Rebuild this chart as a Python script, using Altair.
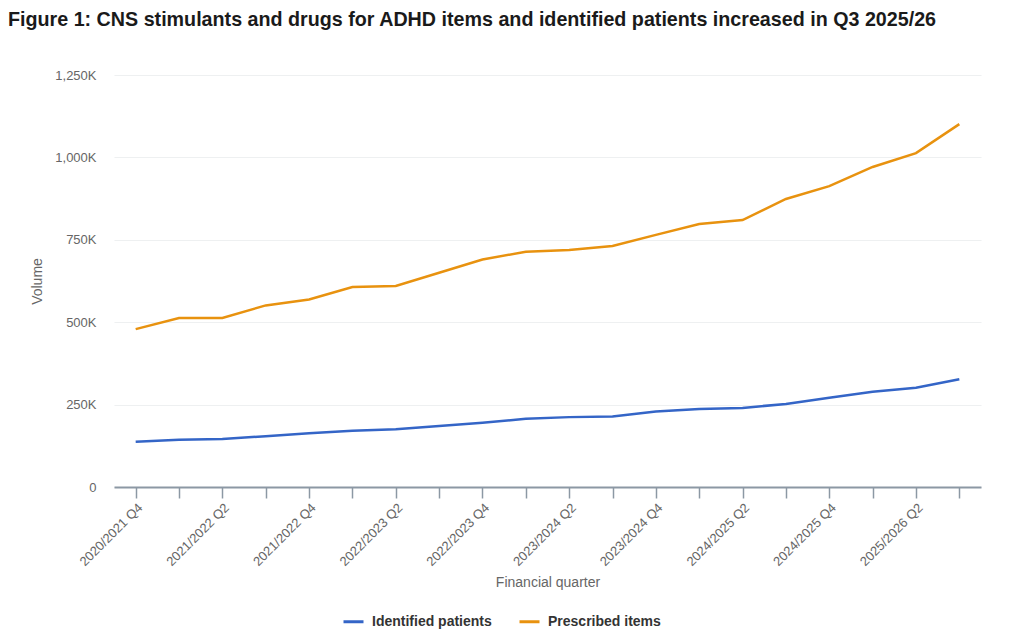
import altair as alt
import pandas as pd

quarters = ["2020/2021 Q4", "2021/2022 Q1", "2021/2022 Q2", "2021/2022 Q3", "2021/2022 Q4",
            "2022/2023 Q1", "2022/2023 Q2", "2022/2023 Q3", "2022/2023 Q4",
            "2023/2024 Q1", "2023/2024 Q2", "2023/2024 Q3", "2023/2024 Q4",
            "2024/2025 Q1", "2024/2025 Q2", "2024/2025 Q3", "2024/2025 Q4",
            "2025/2026 Q1", "2025/2026 Q2", "2025/2026 Q3"]

identified_patients = [137000, 143000, 146000, 154000, 163000, 171000, 175000, 185000, 195000,
                       207000, 212000, 214000, 229000, 237000, 240000, 252000, 271000,
                       289000, 301000, 327000]

prescribed_items = [479000, 513000, 513000, 551000, 569000, 607000, 610000, 650000, 690000,
                    714000, 719000, 731000, 765000, 798000, 810000, 874000, 913000,
                    971000, 1013000, 1101000]

series_names = ["Identified patients", "Prescribed items"]
series_colors = ["#3465c7", "#e8920f"]
y_ticks = [0, 250000, 500000, 750000, 1000000, 1250000]

rows = []
for q, v in zip(quarters, identified_patients):
    rows.append({"quarter": q, "series": series_names[0], "value": v})
for q, v in zip(quarters, prescribed_items):
    rows.append({"quarter": q, "series": series_names[1], "value": v})
df = pd.DataFrame(rows)

title = "Figure 1: CNS stimulants and drugs for ADHD items and identified patients increased in Q3 2025/26"

chart = alt.Chart(df).mark_line(strokeWidth=2.5).encode(
    x=alt.X("quarter:N", sort=quarters,
            scale=alt.Scale(type="point", padding=0.5),
            axis=alt.Axis(title="Financial quarter", labelAngle=-45,
                          labelExpr="test(/Q[24]$/, datum.value) ? datum.label : ''",
                          grid=False, domainColor="#8c98a4", domainWidth=2,
                          tickColor="#8c98a4", tickWidth=1.5, tickSize=11,
                          labelPadding=3, titlePadding=7)),
    y=alt.Y("value:Q", scale=alt.Scale(domain=[0, 1250000], nice=False),
            axis=alt.Axis(title="Volume", values=y_ticks,
                          labelExpr="datum.value == 0 ? '0' : format(datum.value / 1000, ',') + 'K'",
                          domain=False, ticks=False, labelPadding=18, titlePadding=10,
                          gridColor="#eef0f1", gridWidth=1.2)),
    color=alt.Color("series:N", scale=alt.Scale(domain=series_names, range=series_colors),
                    legend=alt.Legend(title=None, orient="none", direction="horizontal",
                                      legendX=228, legendY=535,
                                      symbolType="stroke", symbolSize=400, symbolStrokeWidth=3,
                                      labelFontSize=14, labelFontWeight="bold", labelColor="#333333",
                                      labelFont="Liberation Sans", labelOffset=7, columnPadding=21)),
).properties(
    width=867,
    height=412,
    title=alt.TitleParams(title, anchor="start", frame="group", dx=-106, dy=0,
                          fontSize=19.7, font="Liberation Sans", fontWeight="bold",
                          color="#1a1a1a", offset=39),
    autosize=alt.AutoSizeParams(type="none"),
    padding={"left": 114, "top": 75, "right": 43, "bottom": 147},
    background="white",
).configure_view(stroke=None).configure_axis(
    labelFont="Liberation Sans", titleFont="Liberation Sans",
    labelFontSize=13, titleFontSize=14, labelColor="#666666", titleColor="#666666",
    titleFontWeight="normal",
)

chart.save("out.html", embed_options={"renderer": "svg", "actions": False})
